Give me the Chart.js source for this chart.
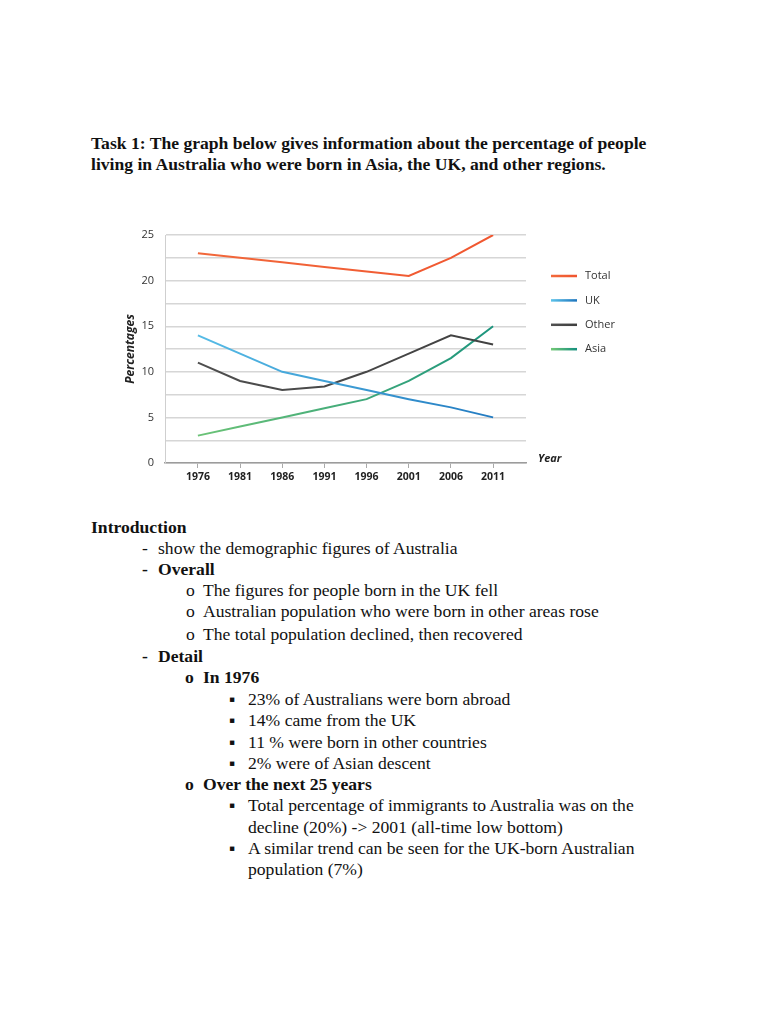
<!DOCTYPE html>
<html>
<head>
<meta charset="utf-8">
<script src="https://cdn.jsdelivr.net/npm/chart.js@4/dist/chart.umd.min.js"></script>
<style>
  html, body { margin:0; padding:0; background:#fff; }
  body { width:768px; height:1024px; position:relative; overflow:hidden;
         font-family:"Liberation Serif","Times New Roman",serif; font-size:17.6px; color:#111; }
  .l { position:absolute; white-space:nowrap; line-height:21px; }
  .b { font-weight:bold; }
  #chartWrap { position:absolute; left:100px; top:215px; width:568px; height:275px; }
</style>
</head>
<body>
<div class="l b" style="left:91px; top:133px;">Task 1: The graph below gives information about the percentage of people</div>
<div class="l b" style="left:91px; top:154px;">living in Australia who were born in Asia, the UK, and other regions.</div>

<div id="chartWrap"><canvas id="c" width="568" height="275"></canvas></div>

<div class="l b" style="left:91px; top:517px;">Introduction</div>
<div class="l" style="left:142px; top:538px;">-</div>
<div class="l" style="left:158px; top:538px;">show the demographic figures of Australia</div>
<div class="l b" style="left:142px; top:559px;">-</div>
<div class="l b" style="left:158px; top:559px;">Overall</div>
<div class="l" style="left:186px; top:580px;">o</div>
<div class="l" style="left:203px; top:580px;">The figures for people born in the UK fell</div>
<div class="l" style="left:186px; top:601px;">o</div>
<div class="l" style="left:203px; top:601px;">Australian population who were born in other areas rose</div>
<div class="l" style="left:186px; top:624px;">o</div>
<div class="l" style="left:203px; top:624px;">The total population declined, then recovered</div>
<div class="l b" style="left:142px; top:646px;">-</div>
<div class="l b" style="left:158px; top:646px;">Detail</div>
<div class="l b" style="left:185px; top:667px;">o</div>
<div class="l b" style="left:203px; top:667px;">In 1976</div>
<div class="l" style="left:229px; top:689px;">▪</div>
<div class="l" style="left:248px; top:689px;">23% of Australians were born abroad</div>
<div class="l" style="left:229px; top:710px;">▪</div>
<div class="l" style="left:248px; top:710px;">14% came from the UK</div>
<div class="l" style="left:229px; top:732px;">▪</div>
<div class="l" style="left:248px; top:732px;">11 % were born in other countries</div>
<div class="l" style="left:229px; top:753px;">▪</div>
<div class="l" style="left:248px; top:753px;">2% were of Asian descent</div>
<div class="l b" style="left:185px; top:774px;">o</div>
<div class="l b" style="left:203px; top:774px;">Over the next 25 years</div>
<div class="l" style="left:229px; top:795px;">▪</div>
<div class="l" style="left:248px; top:795px;">Total percentage of immigrants to Australia was on the</div>
<div class="l" style="left:248px; top:817px;">decline (20%) -&gt; 2001 (all-time low bottom)</div>
<div class="l" style="left:229px; top:838px;">▪</div>
<div class="l" style="left:248px; top:838px;">A similar trend can be seen for the UK-born Australian</div>
<div class="l" style="left:248px; top:859px;">population (7%)</div>

<script>
const years = [1976, 1981, 1986, 1991, 1996, 2001, 2006, 2011];
const total = [23, 22.5, 22, 21.5, 21, 20.5, 22.5, 25];
const uk    = [14, 12, 10, 9, 8, 7, 6.1, 5];
const other = [11, 9, 8, 8.4, 10, 12, 14, 13];
const asia  = [3, 4, 5, 6, 7, 9, 11.5, 15];
const seriesNames = ['Total', 'UK', 'Other', 'Asia'];
const seriesColors = [
  ['#f26a3c', '#f0542e'],
  ['#5cc3ea', '#1d74bd'],
  ['#505050', '#3f3f3f'],
  ['#74c876', '#138f7e']
];
const yTicks = [0, 5, 10, 15, 20, 25];

function grad(pair) {
  return (ctx) => {
    const ch = ctx.chart, a = ch.chartArea;
    if (!a) return pair[0];
    const g = ch.ctx.createLinearGradient(a.left, 0, a.right, 0);
    g.addColorStop(0, pair[0]); g.addColorStop(1, pair[1]);
    return g;
  };
}

const allSeries = [total, uk, other, asia];
const datasets = allSeries.map((arr, i) => ({
  label: seriesNames[i],
  data: arr.map((v, j) => ({ x: years[j], y: v })),
  borderColor: grad(seriesColors[i]),
  borderWidth: 2,
  pointRadius: 0,
  tension: 0,
  fill: false
}));

const sideText = {
  id: 'sideText',
  afterDraw(chart) {
    const c = chart.ctx, a = chart.chartArea;
    c.save();
    chart.data.datasets.forEach((ds, i) => {
      const y = a.top + 41 + i * 24.4;
      const x0 = a.right + 25, x1 = a.right + 51;
      const g = c.createLinearGradient(x0, 0, x1, 0);
      g.addColorStop(0, seriesColors[i][0]); g.addColorStop(1, seriesColors[i][1]);
      c.strokeStyle = g; c.lineWidth = 2.5; c.lineCap = 'butt';
      c.beginPath(); c.moveTo(x0, y); c.lineTo(x1, y); c.stroke();
      c.fillStyle = '#333';
      c.font = '11px "Open Sans", sans-serif';
      c.textBaseline = 'middle'; c.textAlign = 'left';
      c.fillText(ds.label, a.right + 59, y);
    });
    c.font = 'italic bold 11px "Open Sans", sans-serif';
    c.fillStyle = '#222';
    c.textBaseline = 'middle';
    c.fillText('Year', a.right + 12, a.bottom - 4);
    c.restore();
  }
};

new Chart(document.getElementById('c'), {
  type: 'line',
  data: { datasets },
  plugins: [sideText],
  options: {
    responsive: false,
    devicePixelRatio: 1,
    animation: false,
    layout: { padding: { top: 20, right: 142, left: 0, bottom: 0 } },
    plugins: { legend: { display: false }, tooltip: { enabled: false } },
    scales: {
      x: {
        type: 'linear',
        min: 1972.1, max: 2014.9,
        afterBuildTicks: (s) => { s.ticks = years.map(v => ({ value: v })); },
        afterFit: (s) => { s.height = 27; },
        ticks: {
          callback: (v) => String(v),
          color: '#222',
          font: { family: '"Open Sans", sans-serif', size: 10.5, weight: 'bold' },
          padding: 3,
          maxRotation: 0, autoSkip: false
        },
        grid: { drawOnChartArea: false, drawTicks: true, tickLength: 5, color: '#aaa', lineWidth: 1 },
        border: { display: true, color: '#9c9c9c', width: 1.5 }
      },
      y: {
        min: 0, max: 25,
        afterBuildTicks: (s) => {
          const t = [];
          for (let v = 0; v <= 25; v += 2.5) t.push({ value: v });
          s.ticks = t;
        },
        afterFit: (s) => { s.width = 65; },
        ticks: {
          callback: (v) => yTicks.includes(v) ? String(v) : '',
          color: '#333',
          font: { family: '"Open Sans", sans-serif', size: 11 },
          padding: 11
        },
        grid: { drawTicks: false, color: '#d6d6d6', lineWidth: 1.4 },
        border: { display: true, color: '#cfcfcf', width: 1 },
        title: {
          display: true,
          text: 'Percentages',
          color: '#222',
          font: { family: '"Open Sans", sans-serif', size: 12, weight: 'bold', style: 'italic' },
          padding: { top: 23, bottom: 0 }
        }
      }
    }
  }
});
</script>
</body>
</html>
